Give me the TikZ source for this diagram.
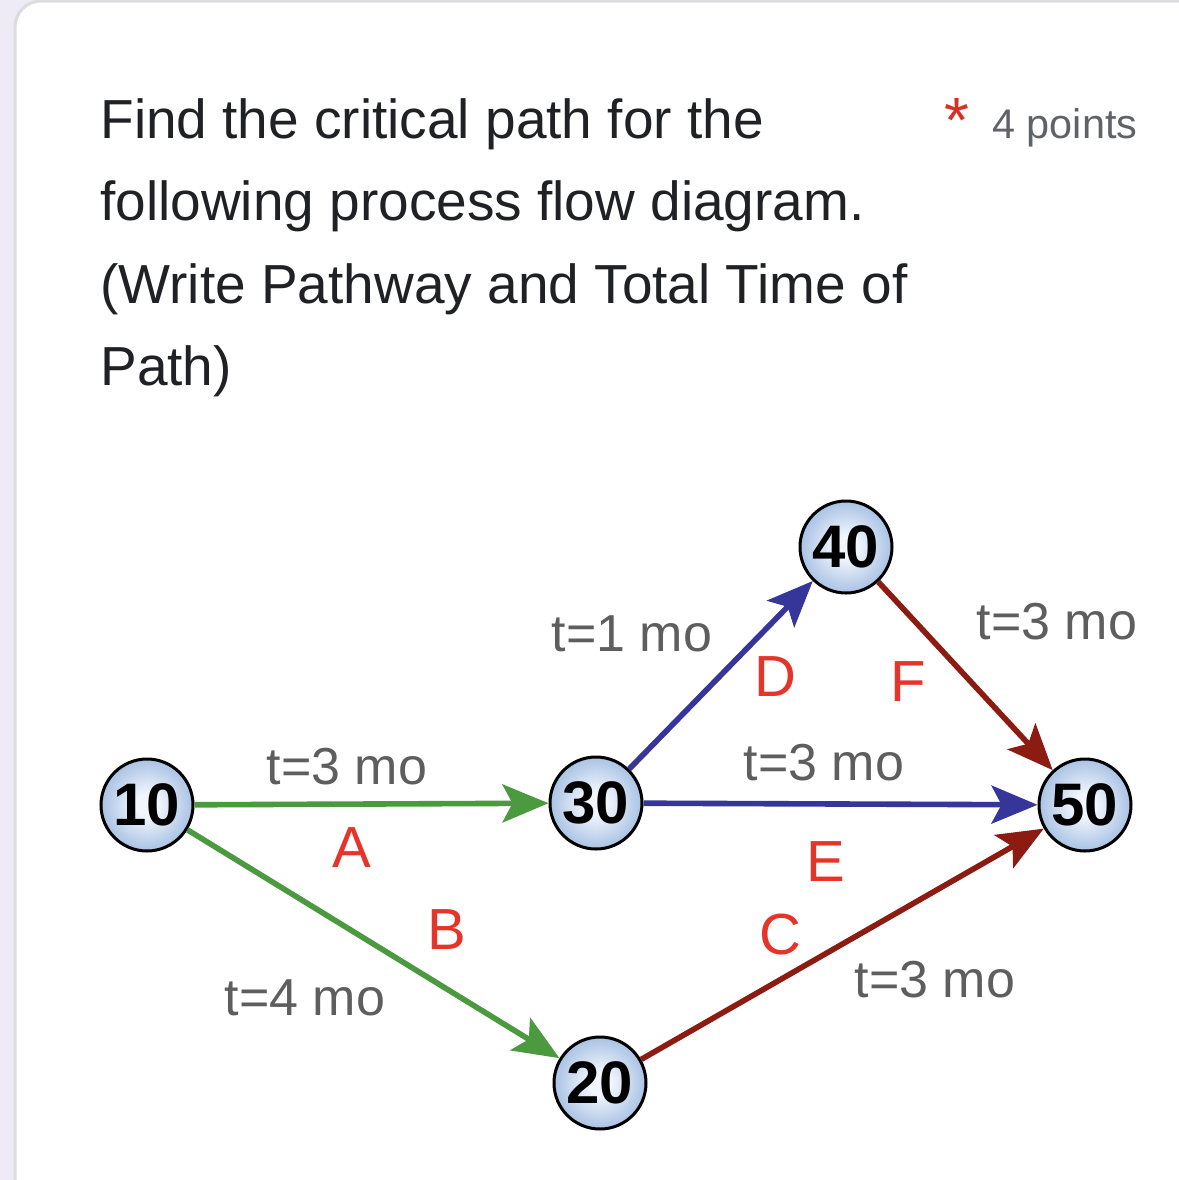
\documentclass[tikz,border=0pt]{standalone}
\usepackage{fontspec}
\setmainfont{Liberation Sans}
\usetikzlibrary{arrows.meta, positioning}
\definecolor{pagebg}{HTML}{EEEBF6}
\definecolor{cardedge}{HTML}{DADCE0}
\definecolor{qtext}{HTML}{202124}
\definecolor{ptext}{HTML}{5F6368}
\definecolor{startred}{HTML}{D93025}
\definecolor{evtout}{HTML}{7FA2D1}
\definecolor{evtmid}{HTML}{B4CAE8}
\definecolor{evtin}{HTML}{F2F6FC}
\definecolor{pathgreen}{HTML}{4C9A40}
\definecolor{pathblue}{HTML}{35359A}
\definecolor{pathred}{HTML}{8C1B12}
\definecolor{actred}{HTML}{E5342A}
\definecolor{timegray}{HTML}{5E5E5E}
\pgfdeclareradialshading{evtshade}{\pgfpoint{0bp}{0bp}}{color(0bp)=(evtin); color(6bp)=(evtin); color(22bp)=(evtmid); color(38bp)=(evtout); color(50bp)=(evtout)}
\tikzset{event/.style={circle, draw, line width=1.5pt, minimum size=46pt, inner sep=0pt,
    shading=evtshade, font=\fontsize{30}{30}\selectfont\bfseries},
  task/.style={line width=2.8pt, -{Stealth[length=23pt, width=19pt, inset=5pt]}},
  tlabel/.style={text=timegray, font=\fontsize{26}{26}\selectfont},
  alabel/.style={text=actred, font=\fontsize{29}{29}\selectfont},
  qline/.style={anchor=base west, inner sep=0pt, text=qtext, font=\fontsize{27.5}{41}\selectfont}}

\begin{document}
\begin{tikzpicture}[x=0.5pt, y=-0.5pt]
    \useasboundingbox (0,0) rectangle (1179,1180);
    \clip (0,0) rectangle (1179,1180);
    
    \fill[pagebg] (0,0) rectangle (1179,1180);
    \draw[cardedge, line width=1.5pt, fill=white, rounded corners=13pt] (15,1) rectangle (1220,1220);

    \node[qline] (q1) at (100,138) {Find the critical path for the};
    \node[qline] (q2) at (100,220) {following process flow diagram.};
    \node[qline] (q3) at (100,303) {(Write Pathway and Total Time of};
    \node[qline] (q4) at (100,385) {Path)};
    \node[text=startred, font=\fontsize{32}{32}\selectfont] (star) at (957,120) {*};
    \node[anchor=base west, inner sep=0pt, text=ptext, font=\fontsize{20.7}{20.7}\selectfont] (pts) at (992,138) {4 points};
    
    \node[event] (n10) at (147,805) {10};
    \node[event] (n30) at (596,803) {30};
    \node[event] (n40) at (846,547) {40};
    \node[event] (n50) at (1085,805) {50};
    \node[event] (n20) at (600,1083) {20};
    
    \draw[task, pathgreen] (n10) -- (n30);
    \draw[task, pathgreen] (n10) -- (n20);
    \draw[task, pathblue] (n30) -- (n40);
    \draw[task, pathblue] (n30) -- (n50);
    \draw[task, pathred] (n40) -- (n50);
    \draw[task, pathred] (n20) -- (n50);
    
    \node[tlabel] (tA) at (347,767) {t=3 mo};
    \node[alabel] (lA) at (352,848) {A};
    \node[alabel] (lB) at (447,930) {B};
    \node[tlabel] (tB) at (305,998) {t=4 mo};
    \node[tlabel] (tD) at (632,634) {t=1 mo};
    \node[alabel] (lD) at (775,677) {D};
    \node[alabel] (lF) at (908,682) {F};
    \node[tlabel] (tF) at (1057,622) {t=3 mo};
    \node[tlabel] (tE) at (824,763) {t=3 mo};
    \node[alabel] (lE) at (826,862) {E};
    \node[alabel] (lC) at (780,935) {C};
    \node[tlabel] (tC) at (935,980) {t=3 mo};
    
    \end{tikzpicture}
\end{document}
